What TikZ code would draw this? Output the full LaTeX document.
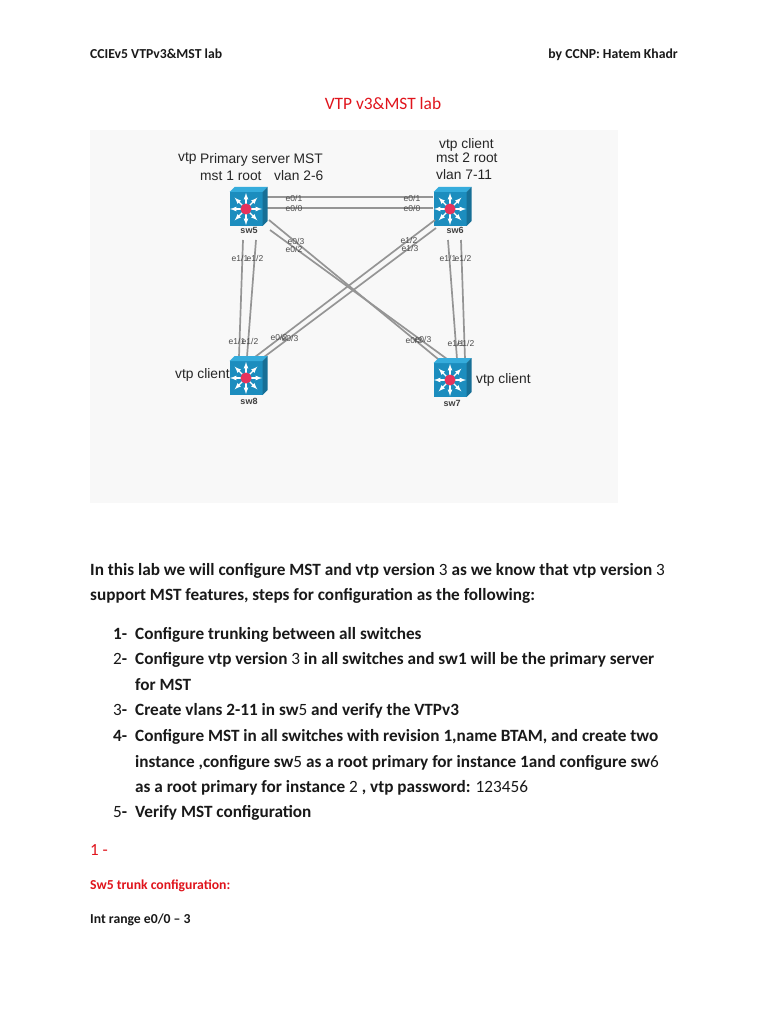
\documentclass[tikz,border=0pt]{standalone}
\usepackage{fontspec}
\setmainfont{Carlito}
\newfontfamily\labfont{Liberation Sans}
\usetikzlibrary{arrows, positioning}
\definecolor{swblue}{HTML}{1C8DBE}
\definecolor{swtop}{HTML}{35ACDC}
\definecolor{swside}{HTML}{176F96}
\definecolor{swred}{HTML}{E6335C}
\definecolor{panel}{HTML}{F8F8F8}
\definecolor{labred}{HTML}{E0141C}
\definecolor{linkgray}{HTML}{959595}
\tikzset{
  % the front face of a switch
  sw/.style={fill=swblue, minimum width=33pt, minimum height=34pt, inner sep=0pt, outer sep=0pt},
  link/.style={draw=linkgray, line width=1.7pt},
  swarrow/.style={-latex, white, line width=1.2pt},
  port/.style={font=\labfont\fontsize{8.5}{9}\selectfont, text=black!70, inner sep=0pt},
  swname/.style={font=\labfont\bfseries\fontsize{9}{10}\selectfont, text=black!75, inner sep=0pt},
  note/.style={font=\labfont\fontsize{13.8}{16}\selectfont, text=black!85, inner sep=0pt, anchor=west},
  line/.style={font=\bfseries\fontsize{17.2}{20}\selectfont, text=black!90, inner sep=0pt, anchor=base west},
  head/.style={font=\bfseries\fontsize{13.7}{16}\selectfont, text=black!90, inner sep=0pt, anchor=base west},
}
% top and side faces, arrows and red dot of a switch
\newcommand{\swicon}[1]{
  \fill[swtop] (#1.north west) -- ++(5,-5) -- ++(33,0) -- (#1.north east) -- cycle;
  \fill[swside] (#1.north east) -- ++(5,-5) -- ++(0,34) -- (#1.south east) -- cycle;
  \foreach \a in {0,45,...,315} {
    \draw[swarrow] (#1.center) -- ([shift={(\a:16pt)}]#1.center);
  }
  \fill[swred] (#1.center) circle (5.5);
}
\begin{document}
\begin{tikzpicture}[x=1pt,y=-1pt,node distance=204pt]
    \useasboundingbox[fill=white] (0,0) rectangle (768,1024);
    \fill[panel] (90,130) rectangle (618,503);

    \node[sw] (sw5) at (246,209) {};
    \node[sw, right of=sw5] (sw6) {};
    \node[sw, below of=sw5, node distance=169pt] (sw8) {};
    \node[sw, right of=sw8, yshift=-2pt] (sw7) {};

    \draw[link]
    ([shift={(17,-12)}]sw5.center) edge ([shift={(-17,-12)}]sw6.center)
    ([shift={(17,-1)}]sw5.center) edge ([shift={(-17,-1)}]sw6.center)

    ([shift={(-3,31)}]sw5.center) edge ([shift={(-7,-21)}]sw8.center)
    ([shift={(10,31)}]sw5.center) edge ([shift={(1,-21)}]sw8.center)

    ([shift={(-2,31)}]sw6.center) edge ([shift={(7,-21)}]sw7.center)
    ([shift={(11,31)}]sw6.center) edge ([shift={(15,-21)}]sw7.center)

    ([shift={(23,11)}]sw5.center) edge ([shift={(-12,-21)}]sw7.center)
    ([shift={(24,21)}]sw5.center) edge ([shift={(-3,-21)}]sw7.center)

    ([shift={(-15,11)}]sw6.center) edge ([shift={(9,-21)}]sw8.center)
    ([shift={(-14,19)}]sw6.center) edge ([shift={(18,-21)}]sw8.center)
    ;

    \swicon{sw5}
    \swicon{sw6}
    \swicon{sw8}
    \swicon{sw7}

    \node[swname, below of=sw5, node distance=21pt, xshift=3pt] (name5) {sw5};
    \node[swname, below of=sw6, node distance=21pt, xshift=5pt] (name6) {sw6};
    \node[swname, below of=sw8, node distance=23pt, xshift=3pt] (name8) {sw8};
    \node[swname, below of=sw7, node distance=23pt, xshift=2pt] (name7) {sw7};

    % port labels
    \node[port] (p51) at (294,198) {e0/1};
    \node[port] (p50) at (294,208) {e0/0};
    \node[port] (p61) at (412,198) {e0/1};
    \node[port] (p60) at (412,208) {e0/0};
    \node[port] (p53) at (296,241) {e0/3};
    \node[port] (p52) at (294,249) {e0/2};
    \node[port] (p62) at (409,240) {e1/2};
    \node[port] (p63) at (410,248) {e1/3};
    \node[port] (p5a) at (240,258) {e1/1};
    \node[port] (p5b) at (255,258) {e1/2};
    \node[port] (p6a) at (448,258) {e1/1};
    \node[port] (p6b) at (463,258) {e1/2};
    \node[port] (p8a) at (237,341) {e1/1};
    \node[port] (p8b) at (250,341) {e1/2};
    \node[port] (p8c) at (279,337) {e0/2};
    \node[port] (p8d) at (290,338) {e0/3};
    \node[port] (p7a) at (414,340) {e0/2};
    \node[port] (p7b) at (423,339) {e0/3};
    \node[port] (p7c) at (456,343) {e1/1};
    \node[port] (p7d) at (466,343) {e1/2};

    % notes round the switches
    \node[note] (vtp5) at (178,158.5) {vtp};
    \node[note] (prim5) at (200,159.5) {Primary server MST};
    \node[note] (root5) at (200,176) {mst 1 root};
    \node[note] (vlan5) at (274,176) {vlan 2-6};
    \node[note] (vtp6) at (439,144.5) {vtp client};
    \node[note] (root6) at (436,158) {mst 2 root};
    \node[note] (vlan6) at (436,175) {vlan 7-11};
    \node[note] (vtp8) at (175,374.5) {vtp client};
    \node[note] (vtp7) at (476,379.5) {vtp client};

    % the page
    \node[head] (headl) at (90,59) {CCIEv5 VTPv3\&MST lab};
    \node[head, anchor=base east] (headr) at (678,59) {by CCNP: Hatem Khadr};
    \node[font=\fontsize{17.4}{20}\selectfont, text=labred, inner sep=0pt] (title) at (383,104) {VTP v3\&MST lab};

    \node[line] (l1) at (90,575) {In this lab we will configure MST and vtp version \textmd{3} as we know that vtp version \textmd{3}};
    \node[line] (l2) at (90,600) {support MST features, steps for configuration as the following:};
    \node[line] (n1) at (113,639) {1-};
    \node[line] (t1) at (135,639) {Configure trunking between all switches};
    \node[line] (n2) at (113,664) {\textmd{2}-};
    \node[line] (t2) at (135,664) {Configure vtp version \textmd{3} in all switches and sw1 will be the primary server};
    \node[line] (t2b) at (135,690) {for MST};
    \node[line] (n3) at (113,715) {\textmd{3}-};
    \node[line] (t3) at (135,715) {Create vlans 2-11 in sw\textmd{5} and verify the VTPv3};
    \node[line] (n4) at (113,741) {4-};
    \node[line] (t4) at (135,741) {Configure MST in all switches with revision 1,name BTAM, and create two};
    \node[line] (t4b) at (135,767) {instance ,configure sw\textmd{5} as a root primary for instance 1and configure sw\textmd{6}};
    \node[line] (t4c) at (135,792) {as a root primary for instance \textmd{2} , vtp password: \textmd{123456}};
    \node[line] (n5) at (113,817) {\textmd{5}-};
    \node[line] (t5) at (135,817) {Verify MST configuration};
    \node[line, font=\fontsize{17}{20}\selectfont, text=labred] (red1) at (90,855) {1 -};
    \node[head, text=labred] (red2) at (90,889) {Sw5 trunk configuration:};
    \node[head] (int) at (90,923) {Int range e0/0 -- 3};
  \end{tikzpicture}
\end{document}
